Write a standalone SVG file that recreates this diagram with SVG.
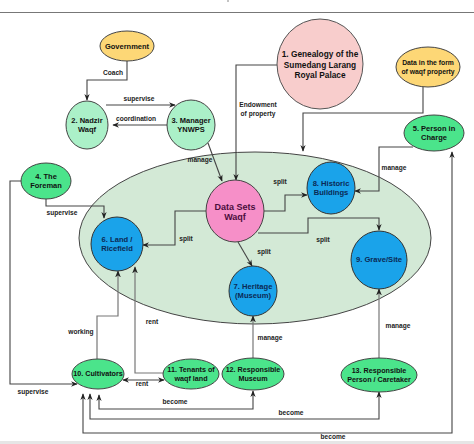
<svg xmlns="http://www.w3.org/2000/svg" width="474" height="444" viewBox="0 0 474 444">
<defs>
<marker id="ah" viewBox="0 0 10 10" refX="9" refY="5" markerWidth="6" markerHeight="6" orient="auto-start-reverse">
<path d="M0,1 L10,5 L0,9 L3,5 Z" fill="#222"/>
</marker>
</defs>
<style>
text{font-family:"Liberation Sans",Arial,sans-serif;font-weight:bold;text-anchor:middle}
.n{font-size:7.5px;fill:#111}
.ns{font-size:7.2px;fill:#111}
.nb{font-size:7.6px;fill:#0b2a55}
.e{font-size:6.6px;fill:#222}
.c{fill:none;stroke:#444;stroke-width:1.1}
.cg{fill:none;stroke:#777;stroke-width:1.2}
.yel{fill:#fdd776;stroke:#444;stroke-width:1}
.lg{fill:#abf0c8;stroke:#444;stroke-width:1}
.bg{fill:#4be48b;stroke:#444;stroke-width:1}
.bl{fill:#1aa3ea;stroke:#333;stroke-width:1}
</style>
<rect width="474" height="444" fill="#fff"/>
<line x1="0" y1="12.5" x2="474" y2="12.5" stroke="#777" stroke-width="1"/>
<line x1="228" y1="0" x2="228" y2="2" stroke="#888" stroke-width="1"/>
<rect x="0" y="441" width="474" height="3" fill="#e6e6e6"/>

<g id="region">
<ellipse cx="255" cy="238" rx="176" ry="86" fill="#d3e9d6" stroke="#444" stroke-width="1"/>
</g>

<g id="connectors">
<path class="c" d="M127,61 V80 H87 V100" marker-end="url(#ah)"/>
<text class="e" x="113" y="75">Coach</text>
<path class="c" d="M106,105 H175" marker-end="url(#ah)"/>
<text class="e" x="139" y="101">supervise</text>
<path class="c" d="M167,125 H113" marker-end="url(#ah)"/>
<text class="e" x="136" y="121">coordination</text>
<path class="c" d="M277,65 H236 V180" marker-end="url(#ah)"/>
<text class="e" x="258" y="107">Endowment</text>
<text class="e" x="258" y="116">of property</text>
<path class="c" d="M423,87 V113 H303 V151" marker-end="url(#ah)"/>
<path class="c" d="M413,147 H379 V191 H355" marker-end="url(#ah)"/>
<text class="e" x="394" y="170">manage</text>
<path class="c" d="M208,143 L222,181" marker-end="url(#ah)"/>
<text class="e" x="200" y="162">manage</text>
<path class="c" d="M46,199 V206 H104 V218" marker-end="url(#ah)"/>
<text class="e" x="62" y="215">supervise</text>
<path class="c" d="M21,181 H10 V384 H77" marker-end="url(#ah)"/>
<text class="e" x="33" y="394">supervise</text>
<path class="c" d="M206,211 H175 V245 H143" marker-end="url(#ah)"/>
<text class="e" x="186" y="241">split</text>
<path class="c" d="M264,211 H285 V195 H307" marker-end="url(#ah)"/>
<text class="e" x="280" y="184">split</text>
<path class="c" d="M258,233 H308 V218 H379 V230" marker-end="url(#ah)"/>
<text class="e" x="323" y="242">split</text>
<path class="c" d="M238,242 L252,266" marker-end="url(#ah)"/>
<text class="e" x="264" y="254">split</text>
<path class="cg" d="M97,359 V316 H118 V271" marker-end="url(#ah)"/>
<text class="e" x="81" y="334">working</text>
<path class="cg" d="M164,373 H135 V267" marker-end="url(#ah)"/>
<text class="e" x="152" y="324">rent</text>
<path class="c" d="M123,380 H164" marker-start="url(#ah)" marker-end="url(#ah)"/>
<text class="e" x="142" y="386">rent</text>
<path class="cg" d="M253,358 V316" marker-end="url(#ah)"/>
<text class="e" x="270" y="340">manage</text>
<path class="cg" d="M379,358 V289" marker-end="url(#ah)"/>
<text class="e" x="398" y="328">manage</text>
<path class="c" d="M99,395 V409 H253 V391" marker-start="url(#ah)" marker-end="url(#ah)"/>
<text class="e" x="175" y="404">become</text>
<path class="c" d="M90,394 V419 H379 V392" marker-start="url(#ah)" marker-end="url(#ah)"/>
<text class="e" x="291" y="415">become</text>
<path class="c" d="M83,394 V433 H452 V152" marker-start="url(#ah)" marker-end="url(#ah)"/>
<text class="e" x="333" y="439">become</text>
</g>

<g id="government"><ellipse class="yel" cx="127" cy="46" rx="27" ry="15"/><text class="n" x="127" y="49">Government</text></g>
<g id="nadzir"><ellipse class="lg" cx="87" cy="125" rx="21" ry="24"/><text class="n" x="87" y="123">2. Nadzir</text><text class="n" x="87" y="132">Waqf</text></g>
<g id="manager"><ellipse class="lg" cx="191" cy="125" rx="24" ry="25"/><text class="n" x="191" y="123">3. Manager</text><text class="n" x="191" y="132">YNWPS</text></g>
<g id="genealogy"><ellipse cx="320" cy="64" rx="43" ry="45" fill="#f8cdcc" stroke="#555" stroke-width="1"/><text class="n" x="320" y="57" style="font-size:8.3px">1. Genealogy of the</text><text class="n" x="320" y="68" style="font-size:8.3px">Sumedang Larang</text><text class="n" x="320" y="78" style="font-size:8.3px">Royal Palace</text></g>
<g id="datawaqf"><ellipse class="yel" cx="428" cy="67" rx="32" ry="20"/><text class="n" x="428" y="65" style="font-size:6.8px">Data in the form</text><text class="n" x="428" y="74" style="font-size:6.8px">of waqf property</text></g>
<g id="person-in-charge"><ellipse class="bg" cx="434" cy="133" rx="30" ry="18"/><text class="n" x="434" y="131">5. Person in</text><text class="n" x="434" y="140">Charge</text></g>
<g id="foreman"><ellipse class="bg" cx="46" cy="181" rx="25" ry="18"/><text class="n" x="46" y="179">4. The</text><text class="n" x="46" y="188">Foreman</text></g>
<g id="datasets"><ellipse cx="235" cy="211" rx="29" ry="31" fill="#f68fc8" stroke="#444" stroke-width="1"/><text class="n" x="235" y="210" style="font-size:9px;fill:#4b0d3c">Data Sets</text><text class="n" x="235" y="220" style="font-size:9px;fill:#4b0d3c">Waqf</text></g>
<g id="historic"><ellipse class="bl" cx="331" cy="188" rx="24" ry="26"/><text class="nb" x="331" y="186">8. Historic</text><text class="nb" x="331" y="195">Buildings</text></g>
<g id="land"><ellipse class="bl" cx="117" cy="244" rx="26" ry="27"/><text class="nb" x="117" y="242">6. Land /</text><text class="nb" x="117" y="251">Ricefield</text></g>
<g id="grave"><ellipse class="bl" cx="379" cy="260" rx="28" ry="29"/><text class="nb" x="379" y="262">9. Grave/Site</text></g>
<g id="heritage"><ellipse class="bl" cx="253" cy="291" rx="24" ry="25"/><text class="nb" x="253" y="289">7. Heritage</text><text class="nb" x="253" y="298">(Museum)</text></g>
<g id="cultivators"><ellipse class="bg" cx="98" cy="374" rx="26" ry="15"/><text class="ns" x="98" y="376">10. Cultivators</text></g>
<g id="tenants"><ellipse class="bg" cx="191" cy="374" rx="28" ry="15"/><text class="ns" x="191" y="372">11. Tenants of</text><text class="ns" x="191" y="381">waqf land</text></g>
<g id="resp-museum"><ellipse class="bg" cx="253" cy="374" rx="31" ry="16"/><text class="ns" x="253" y="372">12. Responsible</text><text class="ns" x="253" y="381">Museum</text></g>
<g id="caretaker"><ellipse class="bg" cx="379" cy="375" rx="38" ry="17"/><text class="ns" x="379" y="373">13. Responsible</text><text class="ns" x="379" y="382">Person / Caretaker</text></g>
</svg>
